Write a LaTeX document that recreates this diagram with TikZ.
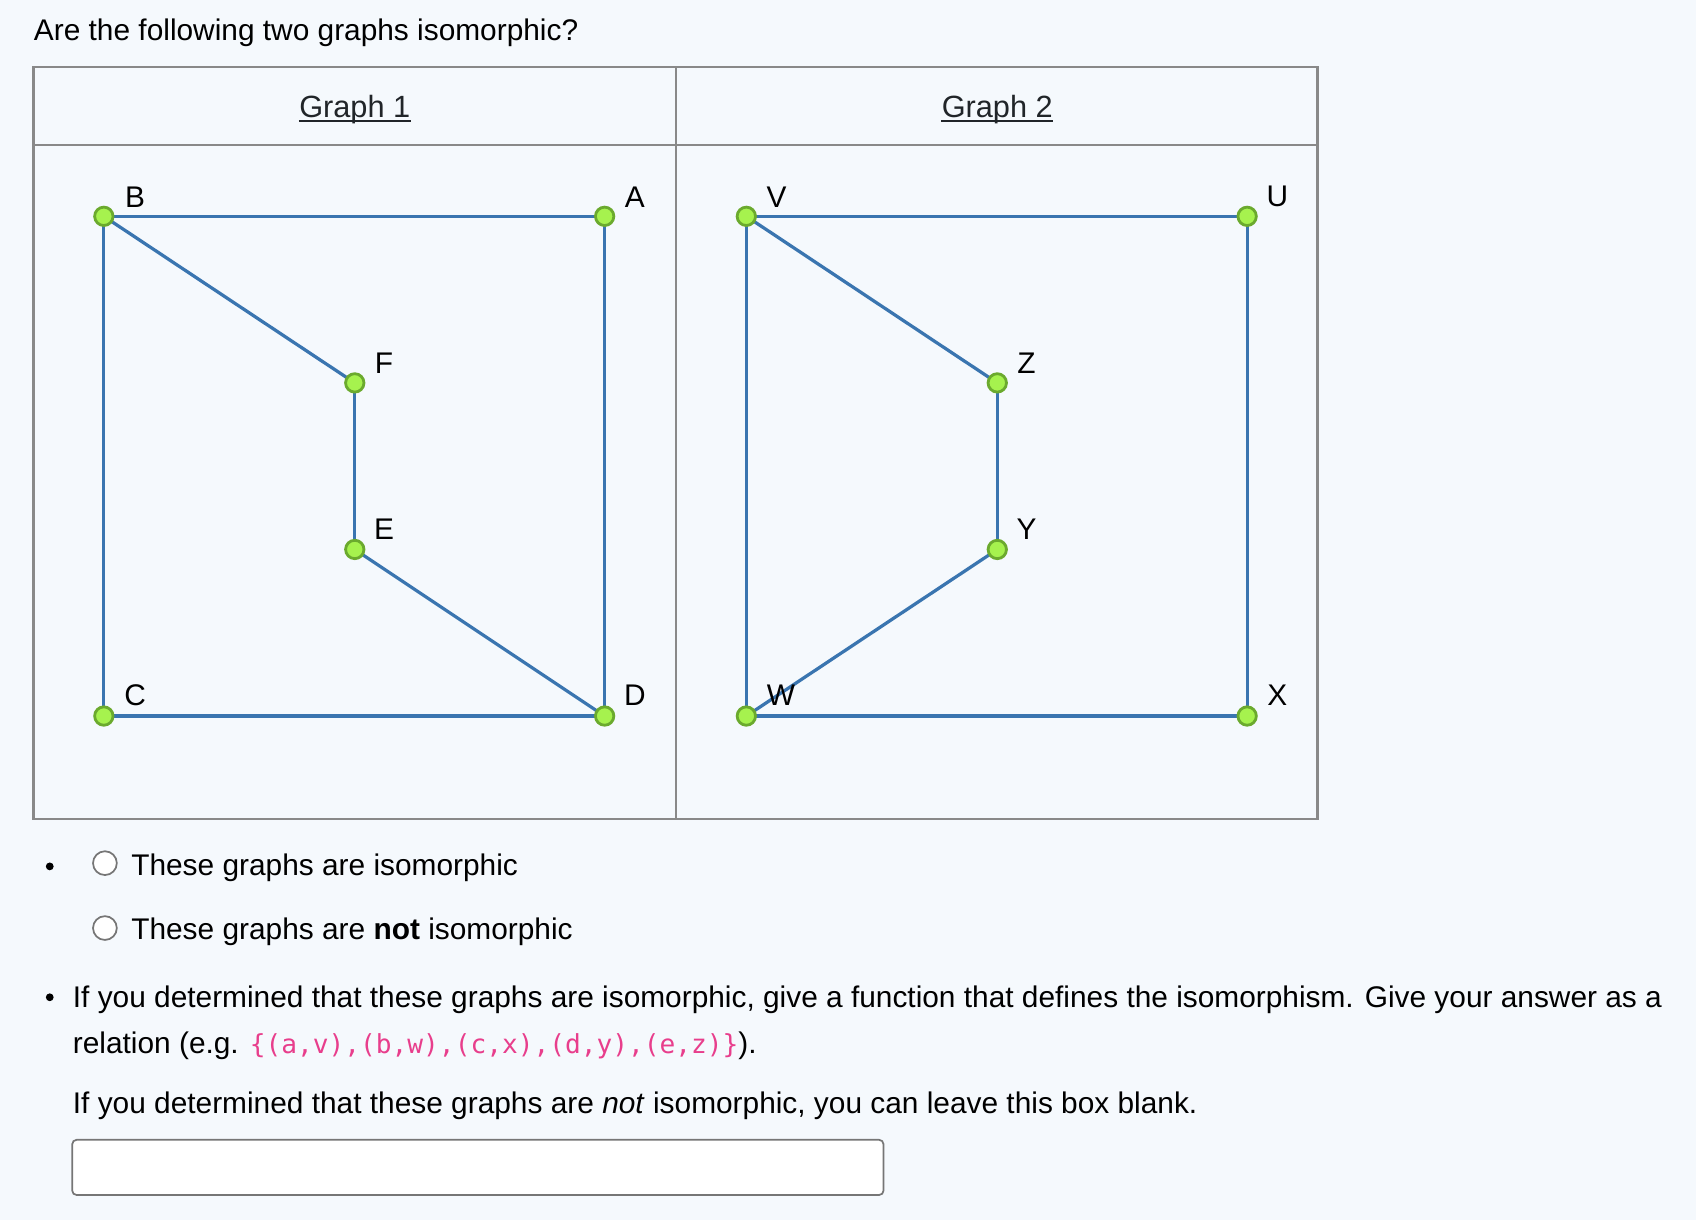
\documentclass[tikz,border=0pt]{standalone}
\usepackage{fontspec}
\setmainfont{Liberation Sans}
\setmonofont{DejaVu Sans Mono}
\usetikzlibrary{calc}
\definecolor{pagebg}{HTML}{F5F9FD}
\definecolor{edgecol}{HTML}{3A75B0}
\definecolor{vfill}{HTML}{A6F24E}
\definecolor{vdraw}{HTML}{6BAA2E}
\definecolor{tabline}{HTML}{898989}
\definecolor{codepink}{HTML}{E83E8C}
\definecolor{radiogray}{HTML}{767676}
\definecolor{headtxt}{HTML}{212529}
\pgfdeclarelayer{bglayer}
\pgfdeclarelayer{edgelayer}
\pgfsetlayers{bglayer,edgelayer,main}
\tikzset{
  vtx/.style={circle, draw=vdraw, fill=vfill, line width=1.3pt, minimum size=8.5pt, inner sep=0pt},
  edg/.style={draw=edgecol, line width=1.5pt},
  vlabel/.style={font=\fontsize{13.8}{16}\selectfont, inner sep=0pt, anchor=center},
  body/.style={font=\fontsize{13.8}{16}\selectfont, inner sep=0pt, anchor=base west},
  head/.style={font=\fontsize{14.2}{17}\selectfont, inner sep=0pt, anchor=base, text=headtxt},
  headline/.style={draw=headtxt, line width=1pt},
  tab/.style={draw=tabline, line width=1pt},
  radio/.style={circle, draw=radiogray, fill=white, line width=0.8pt, minimum size=11pt, inner sep=0pt},
  bulletdot/.style={circle, fill=black, minimum size=3.6pt, inner sep=0pt},
  inbox/.style={draw=radiogray, fill=white, line width=0.8pt, rounded corners=2pt, inner sep=0pt, anchor=north west, minimum width=375pt, minimum height=25.5pt},
}
\begin{document}
\begin{tikzpicture}[x=0.5pt,y=-0.5pt]
\begin{pgfonlayer}{bglayer}
\fill[pagebg] (0,0) rectangle (1568,1128);
\end{pgfonlayer}
\useasboundingbox (0,0) rectangle (1568,1128);

% title
\node[body] (title) at (31,37) {Are the following two graphs isomorphic?};

% table
\draw[tab] (31,62) rectangle (1218,757);
\draw[tab] (31,134) -- (1218,134);
\draw[tab] (625,62) -- (625,757);
\node[head] (h1) at (328,108.5) {Graph 1};
\node[head] (h2) at (922,108.5) {Graph 2};
\draw[headline] ($(h1.base west)+(0,3.5)$) -- ($(h1.base east)+(0,3.5)$);
\draw[headline] ($(h2.base west)+(0,3.5)$) -- ($(h2.base east)+(0,3.5)$);

% graph 1 vertices
\node[vtx] (B) at (96,200) {};
\node[vtx] (A) at (559,200) {};
\node[vtx] (F) at (328,354) {};
\node[vtx] (E) at (328,508) {};
\node[vtx] (C) at (96,662) {};
\node[vtx] (D) at (559,662) {};
% graph 2 vertices
\node[vtx] (V) at (690,200) {};
\node[vtx] (U) at (1153,200) {};
\node[vtx] (Z) at (922,354) {};
\node[vtx] (Y) at (922,508) {};
\node[vtx] (W) at (690,662) {};
\node[vtx] (X) at (1153,662) {};

% labels
\node[vlabel] (lB) at (125,182) {B};
\node[vlabel] (lA) at (587,182) {A};
\node[vlabel] (lF) at (355,336) {F};
\node[vlabel] (lE) at (355,489) {E};
\node[vlabel] (lC) at (125,643) {C};
\node[vlabel] (lD) at (587,643) {D};
\node[vlabel] (lV) at (718,182) {V};
\node[vlabel] (lU) at (1181,182) {U};
\node[vlabel] (lZ) at (949,336) {Z};
\node[vlabel] (lY) at (949,489) {Y};
\node[vlabel] (lW) at (722,643) {W};
\node[vlabel] (lX) at (1181,643) {X};

\begin{pgfonlayer}{edgelayer}
\foreach \a/\b in {B/A,B/C,A/D,C/D,B/F,F/E,E/D,V/U,V/W,U/X,W/X,V/Z,Z/Y,Y/W}
  \draw[edg] (\a.center) -- (\b.center);
\end{pgfonlayer}

% options
\node[bulletdot] (b1) at (46,801) {};
\node[radio] (r1) at (97,798) {};
\node[body] (t1) at (121,809) {These graphs are isomorphic};
\node[radio] (r2) at (97,858) {};
\node[body] (t2) at (121,869) {These graphs are \textbf{not} isomorphic};

\node[bulletdot] (b2) at (46,922) {};
\node[body] (t3) at (67,931) {If you determined that these graphs are isomorphic, give a function that defines the isomorphism. Give your answer as a};
\node[body] (t4) at (67,974) {relation (e.g. {\ttfamily\fontsize{12.1}{14}\selectfont\color{codepink}\{(a,v),(b,w),(c,x),(d,y),(e,z)\}}).};
\node[body] (t5) at (67,1029) {If you determined that these graphs are \textit{not} isomorphic, you can leave this box blank.};

\node[inbox] (answer) at (66,1053) {};
\end{tikzpicture}
\end{document}
